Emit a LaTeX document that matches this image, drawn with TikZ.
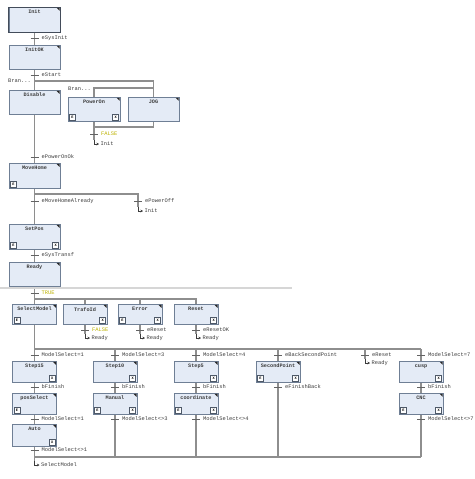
\documentclass[tikz,border=0pt]{standalone}
\usepackage{fontspec}
\setmonofont{Liberation Mono}
\usetikzlibrary{arrows.meta}
\definecolor{boxfill}{HTML}{E4EBF6}
\definecolor{boxdraw}{HTML}{6F7F95}
\definecolor{wirec}{HTML}{8E8E8E}
\definecolor{txt}{HTML}{3C3C3C}
\definecolor{olivec}{HTML}{BDB200}
\definecolor{sepc}{HTML}{D6D6D6}
\tikzset{
 stepbox/.style={draw=boxdraw, fill=boxfill, line width=0.7pt, inner sep=0pt},
 boxlbl/.style={font=\ttfamily\bfseries\fontsize{5.2}{6}\selectfont, text=txt, inner sep=0pt},
 wire/.style={draw=wirec, line width=1.6pt},
 tickmark/.style={draw=txt!80, line width=0.8pt},
 tlbl/.style={font=\ttfamily\fontsize{5.4}{6}\selectfont, text=txt, anchor=west, inner sep=0pt},
 smallbox/.style={draw=boxdraw!70!black, fill=white, line width=0.5pt, minimum size=6pt, inner sep=0pt, font=\ttfamily\bfseries\fontsize{3.6}{4}\selectfont},
 jumparrow/.style={draw=txt, line width=0.7pt, -{Stealth[length=2.5pt,width=2.5pt]}},
}
\newcommand\stp[6]{%
 \node[stepbox, minimum width=#4pt, minimum height=#5pt, anchor=north] (#1) at (#2,#3) {};
 \node[boxlbl, anchor=north] (#1-l) at ([yshift=-3pt]#1.north) {#6};
 \fill[black!85] ([shift={(-0.8pt,-0.8pt)}]#1.north east) -- ++(-3pt,0pt) -- ++(3pt,-3pt) -- cycle;
}
\newcommand\eact[1]{\node[smallbox, anchor=south west] (#1-e) at ([shift={(1.5pt,1.5pt)}]#1.south west) {E};}
\newcommand\xact[1]{\node[smallbox, anchor=south east] (#1-x) at ([shift={(-1.5pt,1.5pt)}]#1.south east) {X};}
\newcommand\trn[4][txt]{\draw[tickmark] (#2-4,#3) -- (#2+4,#3); \node[tlbl, text=#1] (t-#2-#3) at (#2+7,#3) {#4};}
\newcommand\jmp[3]{\draw[jumparrow] (#1,#2-4) |- (#1+5,#2); \node[tlbl] (j-#1-#2) at (#1+6.5,#2) {#3};}
\begin{document}
\begin{tikzpicture}[x=1pt,y=-1pt]
\useasboundingbox (0,0) rectangle (474,479);
\fill[white] (0,0) rectangle (474,479);
% ---------- wires (drawn first) ----------
\coordinate (d1) at (34.5,81);
\coordinate (d2) at (94,88);
\coordinate (c1) at (94,127);
\coordinate (d3) at (34.5,194);
\coordinate (d4) at (34.5,299);
\coordinate (d5) at (34.5,349);
\coordinate (c5) at (34.5,457);
\draw[wire] (34.5,20) -- (34.5,457) -- (34.5,461);
\draw[wire] (d1) -| (153.5,100);
\draw[wire] (153.5,88) -| (94,100);
\draw[wire] (94,115) -- (c1) -| (153.5,115);
\draw[wire] (c1) -- (94,140);
\draw[wire] (d3) -| (138,207);
\draw[wire] (d4) -| (196,310);
\draw[wire] (85,299) -- (85,310);
\draw[wire] (140,299) -- (140,310);
\draw[wire] (85,320) -- (85,334);
\draw[wire] (140,320) -- (140,334);
\draw[wire] (196,320) -- (196,334);
\draw[wire] (d5) -- (421,349);
\foreach \xx in {115,196,278,421} {\draw[wire] (\xx,349) -- (\xx,457);}
\draw[wire] (365,349) -- (365,359);
\draw[wire] (34.5,457) -- (421,457);
% ---------- steps ----------
\stp{init}{34.5}{7}{51}{25}{Init}
\draw[boxdraw!60!black, line width=0.9pt] (init.north west) rectangle (init.south east);
\stp{initok}{34.5}{45}{51}{24}{InitOK}
\stp{disable}{34.5}{90}{51}{24}{Disable}
\stp{poweron}{94}{97}{52}{24}{PowerOn}\eact{poweron}\xact{poweron}
\stp{jog}{153.5}{97}{51}{24}{JOG}
\stp{movehome}{34.5}{163}{51}{25}{MoveHome}\eact{movehome}
\stp{setpos}{34.5}{224}{51}{25}{SetPos}\eact{setpos}\xact{setpos}
\stp{ready}{34.5}{262}{51}{24}{Ready}
\stp{selectmodel}{34.5}{304}{44}{20}{SelectModel}\eact{selectmodel}
\stp{trafo}{85}{304}{44}{20}{TrafoId}\xact{trafo}
\stp{error}{140}{304}{44}{20}{Error}\eact{error}\xact{error}
\stp{reset}{196}{304}{44}{20}{Reset}\xact{reset}
\stp{step15}{34.5}{361}{44}{21}{Step15}\xact{step15}
\stp{step10}{115}{361}{44}{21}{Step10}\xact{step10}
\stp{step5}{196}{361}{44}{21}{Step5}\xact{step5}
\stp{secondpoint}{278}{361}{44}{21}{SecondPoint}\eact{secondpoint}\xact{secondpoint}
\stp{cusp}{421}{361}{44}{21}{cusp}\xact{cusp}
\stp{posselect}{34.5}{393}{44}{21}{posSelect}\eact{posselect}
\stp{manual}{115}{393}{44}{21}{Manual}\eact{manual}\xact{manual}
\stp{coordinate}{196}{393}{44}{21}{coordinate}\eact{coordinate}\xact{coordinate}
\stp{cnc}{421}{393}{44}{21}{CNC}\eact{cnc}\xact{cnc}
\stp{auto}{34.5}{424}{44}{22}{Auto}\xact{auto}
% ---------- separator ----------
\draw[sepc, line width=1.5pt] (0,288) -- (292,288);
% ---------- branch labels ----------
\node[tlbl, anchor=east] (br1) at (31,81) {Bran...};
\node[tlbl, anchor=east] (br2) at (91,89) {Bran...};
% ---------- transitions ----------
\trn{34.5}{38}{eSysInit}
\trn{34.5}{75}{eStart}
\trn[olivec]{94}{134}{FALSE}
\jmp{94}{144}{Init}
\trn{34.5}{157}{ePowerOnOk}
\trn{34.5}{201}{eMoveHomeAlready}
\trn{138}{201}{ePowerOff}
\jmp{138}{211}{Init}
\trn{34.5}{255}{eSysTransf}
\trn[olivec]{34.5}{293}{TRUE}
\trn[olivec]{85}{330}{FALSE}
\jmp{85}{338}{Ready}
\trn{140}{330}{eReset}
\jmp{140}{338}{Ready}
\trn{196}{330}{eResetOK}
\jmp{196}{338}{Ready}
\trn{34.5}{355}{ModelSelect=1}
\trn{115}{355}{ModelSelect=3}
\trn{196}{355}{ModelSelect=4}
\trn{278}{355}{eBackSecondPoint}
\trn{365}{355}{eReset}
\jmp{365}{363}{Ready}
\trn{421}{355}{ModelSelect=7}
\trn{34.5}{387}{bFinish}
\trn{115}{387}{bFinish}
\trn{196}{387}{bFinish}
\trn{278}{387}{eFinishBack}
\trn{421}{387}{bFinish}
\trn{34.5}{419}{ModelSelect=1}
\trn{115}{419}{ModelSelect<>3}
\trn{196}{419}{ModelSelect<>4}
\trn{421}{419}{ModelSelect<>7}
\trn{34.5}{450}{ModelSelect<>1}
\jmp{34.5}{465}{SelectModel}
\end{tikzpicture}
\end{document}
